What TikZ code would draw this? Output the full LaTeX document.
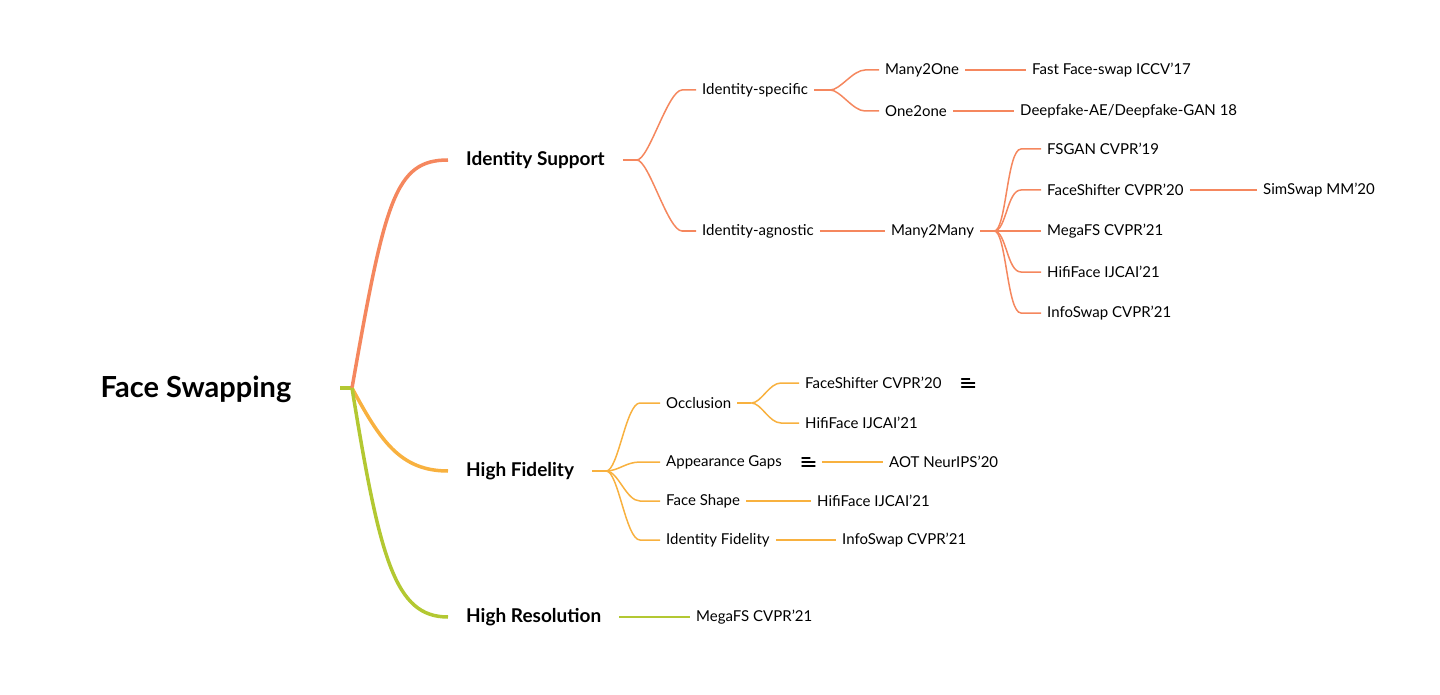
\documentclass[tikz,border=0pt]{standalone}
\usepackage{fontspec}
\setmainfont{Lato}
\begin{document}
\begin{tikzpicture}[x=1pt,y=-1pt,
  lab/.style={anchor=west,inner xsep=6pt,inner ysep=2pt,font=\fontsize{15}{17}\selectfont},
  big/.style={anchor=west,inner xsep=18pt,inner ysep=2pt,font=\fontsize{19}{22}\selectfont\bfseries},
  co/.style={color=coralc,line width=1.5pt},
  ye/.style={color=yelc,line width=1.5pt},
  gr/.style={color=grc,line width=1.5pt},
  note/.style={line width=1.3pt,line cap=round}]
\definecolor{coralc}{HTML}{F5875E}
\definecolor{yelc}{HTML}{F8B13F}
\definecolor{grc}{HTML}{B3C832}
\useasboundingbox (0,0) rectangle (1440,695);
% root
\node[anchor=center,font=\fontsize{29}{32}\selectfont\bfseries] (root) at (196,389) {Face Swapping};
\coordinate (rc) at (352,388);
\draw[grc,line width=4pt] (340,388) -- (rc);
% level 1
\node[big] (is) at (448,160) {Identity Support};
\node[big] (hf) at (448,471) {High Fidelity};
\node[big] (hr) at (448,617) {High Resolution};
\draw[coralc,line width=3.5pt] (rc) .. controls (385,200) and (395,160) .. (is.west);
\draw[yelc,line width=3.5pt] (rc) .. controls (380,440) and (400,471) .. (hf.west);
\draw[grc,line width=3.5pt] (rc) .. controls (380,560) and (395,617) .. (hr.west);
% identity support
\node[lab] (isp) at (696,90) {Identity-specific};
\node[lab] (iag) at (696,231) {Identity-agnostic};
\draw[co] (is.east) -- ++(14,0) coordinate (s1);
\draw[co] (s1) .. controls +(12,0) and +(-14,0) .. ([xshift=-14pt]isp.west) -- (isp.west);
\draw[co] (s1) .. controls +(12,0) and +(-14,0) .. ([xshift=-14pt]iag.west) -- (iag.west);
\node[lab] (m2o) at (879,70) {Many2One};
\node[lab] (o2o) at (879,111) {One2one};
\draw[co] (isp.east) -- ++(16,0) coordinate (s2);
\draw[co] (s2) .. controls +(10,0) and +(-12,0) .. ([xshift=-14pt]m2o.west) -- (m2o.west);
\draw[co] (s2) .. controls +(10,0) and +(-12,0) .. ([xshift=-14pt]o2o.west) -- (o2o.west);
\node[lab] (ffs) at (1026,70) {Fast Face-swap ICCV'17};
\node[lab] (dfk) at (1014,111) {Deepfake-AE/Deepfake-GAN 18};
\draw[co] (m2o) -- (ffs);
\draw[co] (o2o) -- (dfk);
\node[lab] (m2m) at (885,231) {Many2Many};
\draw[co] (iag) -- (m2m);
\node[lab] (fsg) at (1041,149) {FSGAN CVPR'19};
\node[lab] (fsh) at (1041,190) {FaceShifter CVPR'20};
\node[lab] (mfs) at (1041,231) {MegaFS CVPR'21};
\node[lab] (hif) at (1041,272) {HifiFace IJCAI'21};
\node[lab] (ifs) at (1041,313) {InfoSwap CVPR'21};
\draw[co] (m2m.east) -- ++(14,0) coordinate (s3);
\foreach \t in {fsg,fsh,hif,ifs}
  \draw[co] (s3) .. controls +(12,0) and +(-14,0) .. ([xshift=-20pt]\t.west) -- (\t.west);
\draw[co] (s3) -- (mfs.west);
\node[lab] (ssw) at (1257,190) {SimSwap MM'20};
\draw[co] (fsh) -- (ssw);
% high fidelity
\node[lab] (occ) at (660,403) {Occlusion};
\node[lab] (apg) at (660,462) {Appearance Gaps};
\node[lab] (fsp) at (660,501) {Face Shape};
\node[lab] (idf) at (660,540) {Identity Fidelity};
\draw[ye] (hf.east) -- ++(14,0) coordinate (s4);
\foreach \t in {occ,apg,fsp,idf}
  \draw[ye] (s4) .. controls +(12,0) and +(-14,0) .. ([xshift=-20pt]\t.west) -- (\t.west);
\node[lab] (fsh2) at (799,383) {FaceShifter CVPR'20};
\node[lab] (hif2) at (799,423) {HifiFace IJCAI'21};
\draw[ye] (occ.east) -- ++(14,0) coordinate (s5);
\draw[ye] (s5) .. controls +(10,0) and +(-12,0) .. ([xshift=-18pt]fsh2.west) -- (fsh2.west);
\draw[ye] (s5) .. controls +(10,0) and +(-12,0) .. ([xshift=-18pt]hif2.west) -- (hif2.west);
\coordinate (n1) at ([xshift=14pt]fsh2.east);
\draw[note] ([yshift=-4pt]n1) -- ++(13,0) (n1) -- ++(13,0) ([yshift=4pt]n1) -- ++(8,0);
\coordinate (n2) at ([xshift=14pt]apg.east);
\draw[note] ([yshift=-4pt]n2) -- ++(13,0) (n2) -- ++(13,0) ([yshift=4pt]n2) -- ++(8,0);
\node[lab] (aot) at (883,462) {AOT NeurIPS'20};
\draw[ye] ([xshift=34pt]apg.east) -- (aot.west);
\node[lab] (hif3) at (811,501) {HifiFace IJCAI'21};
\draw[ye] (fsp) -- (hif3);
\node[lab] (ifs2) at (836,540) {InfoSwap CVPR'21};
\draw[ye] (idf) -- (ifs2);
% high resolution
\node[lab] (mfs2) at (690,617) {MegaFS CVPR'21};
\draw[gr] (hr) -- (mfs2);
\end{tikzpicture}
\end{document}
